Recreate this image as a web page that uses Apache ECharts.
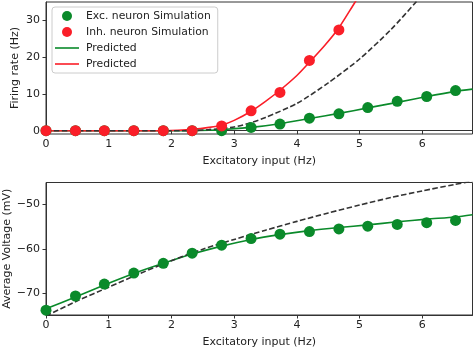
<!DOCTYPE html>
<html>
<head>
<meta charset="utf-8">
<script src="https://cdn.jsdelivr.net/npm/echarts@6/dist/echarts.min.js"></script>
<style>html,body{margin:0;padding:0;background:#fff}#c{width:474px;height:349px}</style>
</head>
<body>
<div id="c"></div>
<script>
// ---- data ----
const xSim = [0, 0.47, 0.93, 1.4, 1.87, 2.33, 2.8, 3.27, 3.73, 4.2, 4.67, 5.13, 5.6, 6.07, 6.53];
const excRate = [0, 0, 0, 0, 0, 0, 0, 0.9, 1.8, 3.4, 4.6, 6.3, 8.0, 9.3, 10.9];
const inhRate = [0, 0, 0, 0, 0, 0, 1.3, 5.4, 10.4, 19.1, 27.4];
const excVolt = [-73.9, -70.7, -68.0, -65.5, -63.3, -61.0, -59.2, -57.7, -56.7, -56.1, -55.5, -54.9, -54.5, -54.1, -53.6];

const excPredX = [0, 2.3, 2.6, 2.8, 3.27, 3.73, 4.2, 4.67, 5.13, 5.6, 6.07, 6.53, 6.8];
const excPredRate = [0, 0, 0.1, 0.3, 0.9, 1.9, 3.3, 4.7, 6.2, 7.7, 9.3, 10.7, 11.3];
const inhPredX = [0, 1.9, 2.1, 2.33, 2.6, 2.8, 3.0, 3.27, 3.5, 3.73, 4.0, 4.2, 4.45, 4.67, 4.93, 5.05];
const inhPredRate = [0, 0, 0.1, 0.35, 0.9, 1.5, 2.8, 5.3, 8.0, 11.0, 15.0, 18.6, 23.3, 28.0, 35.0, 38.0];
const refRateX = [0, 2.3, 2.6, 3.0, 3.27, 3.5, 4.0, 4.5, 5.0, 5.5, 5.9, 6.1];
const refRate = [0, 0, 0.3, 1.0, 2.2, 3.6, 7.4, 13.0, 19.5, 27.5, 35.0, 39.0];

const predVoltX = [0, 0.47, 0.93, 1.4, 1.87, 2.33, 2.8, 3.27, 3.73, 4.2, 4.67, 5.13, 5.6, 6.07, 6.53, 6.8];
const predVolt = [-73.6, -70.9, -68.2, -65.6, -63.3, -61.2, -59.4, -57.9, -56.8, -55.9, -55.2, -54.6, -53.9, -53.3, -52.8, -52.3];
const refVoltX = [0, 0.5, 1.0, 1.5, 2.0, 2.5, 3.0, 3.5, 4.0, 4.5, 5.0, 5.5, 6.0, 6.5, 6.8];
const refVolt = [-75.2, -71.8, -68.7, -65.6, -62.7, -60.1, -57.9, -55.8, -53.8, -51.9, -50.1, -48.4, -46.9, -45.5, -44.7];

const xTicks = [0, 1, 2, 3, 4, 5, 6];
const rateTicks = [0, 10, 20, 30];
const voltTicks = [-70, -60, -50];

// ---- chart ----
const zip = (xs, ys) => ys.map((y, i) => [xs[i], y]);
const GREEN = '#0a8a2a', RED = '#fa1e28', DASH = '#333333', AX = '#333333', TXT = '#222222';
const FONT = 'DejaVu Sans';
const minus = v => String(v).replace('-', '\u2212');
const LINE_ICON = 'path://M0,0 L24,0 L24,1.6 L0,1.6 Z';

function xAxis(gi) {
  return {
    type: 'value', gridIndex: gi, min: 0, max: 6.8,
    name: 'Excitatory input (Hz)', nameLocation: 'middle', nameGap: 22, nameMoveOverlap: false,
    nameTextStyle: {fontFamily: FONT, fontSize: 11, color: TXT},
    axisLine: {show: true, lineStyle: {color: AX, width: 1}},
    axisTick: {show: true, length: 3.5, lineStyle: {color: AX}, customValues: xTicks},
    axisLabel: {fontFamily: FONT, fontSize: 11, color: TXT, margin: 5, customValues: xTicks},
    splitLine: {show: false}
  };
}
function yAxis(gi, min, max, ticks, name, gap) {
  return {
    type: 'value', gridIndex: gi, min: min, max: max,
    name: name, nameLocation: 'middle', nameGap: gap, nameMoveOverlap: false,
    nameTextStyle: {fontFamily: FONT, fontSize: 11, color: TXT},
    axisLine: {show: true, lineStyle: {color: AX, width: 1}},
    axisTick: {show: true, length: 3.5, lineStyle: {color: AX}, customValues: ticks},
    axisLabel: {fontFamily: FONT, fontSize: 11, color: TXT, margin: 6, customValues: ticks, formatter: minus},
    splitLine: {show: false}
  };
}
function line(name, data, color, xi, dashed) {
  return {
    type: 'line', name: name, xAxisIndex: xi, yAxisIndex: xi, data: data,
    symbol: 'none', showSymbol: false, smooth: 0.25, clip: true,
    lineStyle: {color: color, width: 1.6, type: dashed ? [5.5, 2.5] : 'solid'},
    itemStyle: {color: color}, z: 2, silent: true, animation: false
  };
}
function scatter(name, data, color, xi) {
  return {
    type: 'scatter', name: name, xAxisIndex: xi, yAxisIndex: xi, data: data,
    symbol: 'circle', symbolSize: 11, itemStyle: {color: color, opacity: 1},
    z: 3, animation: false
  };
}

const chart = echarts.init(document.getElementById('c'), null, {renderer: 'canvas'});
chart.setOption({
  animation: false,
  backgroundColor: '#fff',
  grid: [
    {left: 46, right: 1.5, top: 2, height: 132, containLabel: false, outerBoundsMode: 'none',
     show: true, borderColor: AX, borderWidth: 1, backgroundColor: 'transparent'},
    {left: 46, right: 1.5, top: 182.5, height: 132.5, containLabel: false, outerBoundsMode: 'none',
     show: true, borderColor: AX, borderWidth: 1, backgroundColor: 'transparent'}
  ],
  xAxis: [xAxis(0), xAxis(1)],
  yAxis: [
    yAxis(0, -0.9, 35, rateTicks, 'Firing rate (Hz)', 25),
    yAxis(1, -75, -45, voltTicks, 'Average Voltage (mV)', 33)
  ],
  legend: {
    left: 52, top: 7, orient: 'vertical',
    padding: [3, 7, 3, 3], itemWidth: 24, itemHeight: 10, itemGap: 4,
    backgroundColor: 'rgba(255,255,255,0.85)', borderColor: '#cccccc', borderWidth: 1, borderRadius: 3,
    textStyle: {fontFamily: FONT, fontSize: 10.8, color: TXT, lineHeight: 12, padding: [0, 0, 0, 2]},
    formatter: n => n.trim(),
    data: [
      {name: 'Exc. neuron Simulation', icon: 'circle'},
      {name: 'Inh. neuron Simulation', icon: 'circle'},
      {name: 'Predicted', icon: LINE_ICON},
      {name: 'Predicted ', icon: LINE_ICON}
    ],
    selectedMode: false
  },
  series: [
    line('Predicted', zip(excPredX, excPredRate), GREEN, 0, false),
    line('Predicted ', zip(inhPredX, inhPredRate), RED, 0, false),
    line('ref-rate', zip(refRateX, refRate), DASH, 0, true),
    scatter('Exc. neuron Simulation', zip(xSim, excRate), GREEN, 0),
    scatter('Inh. neuron Simulation', zip(xSim.slice(0, inhRate.length), inhRate), RED, 0),
    line('pred-volt', zip(predVoltX, predVolt), GREEN, 1, false),
    line('ref-volt', zip(refVoltX, refVolt), DASH, 1, true),
    scatter('exc-volt', zip(xSim, excVolt), GREEN, 1)
  ]
});
</script>
</body>
</html>
